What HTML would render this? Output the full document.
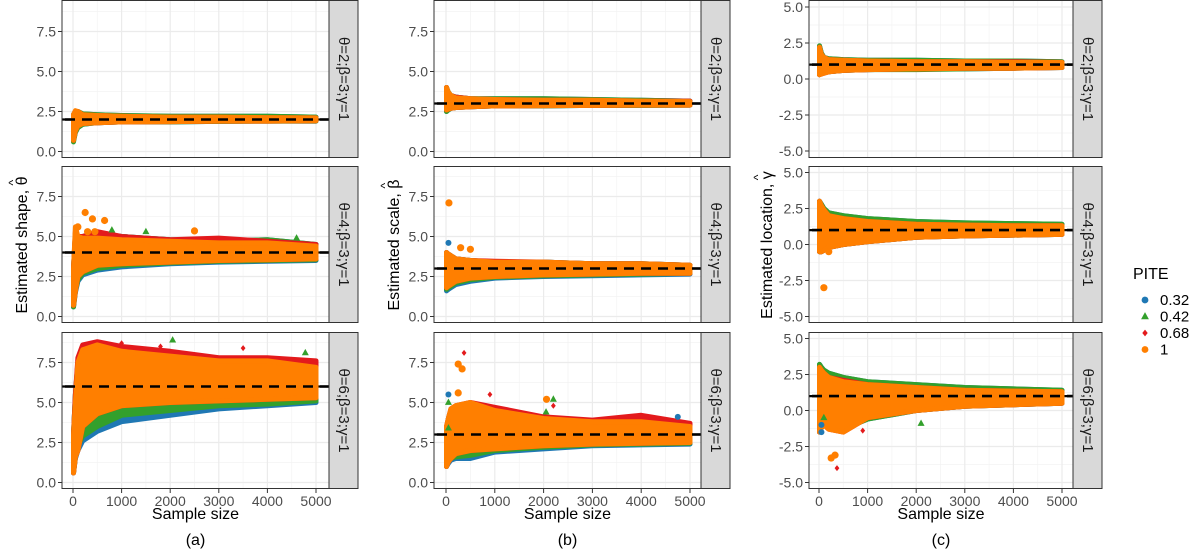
<!DOCTYPE html>
<html><head><meta charset="utf-8">
<style>
html,body{margin:0;padding:0;background:#fff;}
svg{display:block;font-family:"Liberation Sans",sans-serif;}
</style></head>
<body>
<svg id="chart" width="1200" height="553" viewBox="0 0 1200 553" xmlns="http://www.w3.org/2000/svg"></svg>
<script>
// ---- data ----
const sampleKnots = [10, 50, 100, 200, 500, 1000, 2000, 3000, 4000, 5000];
const xTicks = [0, 1000, 2000, 3000, 4000, 5000];
const yTicksAB = [0, 2.5, 5, 7.5];
const yTicksC = [-5, -2.5, 0, 2.5, 5];
const stripLabels = ["θ=2;β=3;γ=1", "θ=4;β=3;γ=1", "θ=6;β=3;γ=1"];
const trueShape = [2, 4, 6];
const trueScale = [3, 3, 3];
const trueLoc = [1, 1, 1];
const legendLabels = ["0.32", "0.42", "0.68", "1"];

// panel a (shape)
const a1_blueLo = [0.7,1.2,1.5,1.7,1.8,1.85,1.85,1.88,1.9,1.9];
const a1_greenLo = [0.6,1.2,1.5,1.7,1.8,1.85,1.85,1.88,1.9,1.9];
const a1_greenHi = [2.3,2.5,2.5,2.35,2.3,2.25,2.2,2.2,2.2,2.15];
const a1_redHi = [2.3,2.5,2.5,2.3,2.25,2.2,2.15,2.15,2.1,2.1];
const a1_orangeLo = [0.7,1.3,1.6,1.75,1.8,1.85,1.87,1.9,1.9,1.92];
const a1_orangeHi = [2.3,2.55,2.5,2.3,2.25,2.2,2.15,2.15,2.12,2.1];

const a2_blueLo = [0.6,1.5,2.2,2.6,2.9,3.1,3.3,3.4,3.45,3.5];
const a2_greenLo = [0.6,1.6,2.3,2.7,3.0,3.2,3.35,3.45,3.5,3.55];
const a2_greenHi = [3.0,5.2,5.0,5.0,5.2,5.0,4.8,4.7,4.8,4.5];
const a2_redHi = [3.0,5.3,5.0,5.0,5.3,5.0,4.8,4.9,4.7,4.5];
const a2_orangeLo = [0.7,1.6,2.5,2.8,3.2,3.3,3.4,3.5,3.55,3.6];
const a2_orangeHi = [3.0,5.6,5.0,4.9,4.9,4.8,4.7,4.6,4.6,4.4];

const a3_blueLo = [0.6,1.5,2.0,2.6,3.2,3.8,4.2,4.6,4.8,5.0];
const a3_greenLo = [0.6,1.6,2.3,2.9,3.5,4.2,4.5,4.8,4.9,5.1];
const a3_greenHi = [3.0,5.5,7.5,8.3,8.5,8.3,8.0,7.5,7.5,7.2];
const a3_redHi = [3.0,5.5,7.8,8.6,8.8,8.5,8.2,7.8,7.8,7.6];
const a3_orangeLo = [0.6,1.6,2.0,3.5,4.3,4.8,5.0,5.1,5.2,5.3];
const a3_orangeHi = [3.0,5.0,7.5,8.3,8.6,8.2,7.9,7.6,7.6,7.2];

// panel b (scale)
const b1_blueLo = [2.5,2.6,2.7,2.75,2.8,2.85,2.85,2.88,2.88,2.9];
const b1_greenLo = [2.5,2.6,2.7,2.75,2.8,2.85,2.85,2.88,2.88,2.9];
const b1_greenHi = [4.0,3.7,3.5,3.4,3.3,3.3,3.3,3.25,3.2,3.15];
const b1_redHi = [4.0,3.6,3.5,3.4,3.3,3.25,3.2,3.2,3.15,3.15];
const b1_orangeLo = [2.6,2.65,2.7,2.75,2.8,2.85,2.87,2.88,2.9,2.9];
const b1_orangeHi = [4.0,3.7,3.5,3.35,3.3,3.25,3.2,3.2,3.15,3.12];

const b2_blueLo = [1.6,1.7,1.8,2.0,2.2,2.4,2.5,2.55,2.6,2.65];
const b2_greenLo = [1.7,1.8,1.9,2.1,2.3,2.45,2.55,2.6,2.65,2.7];
const b2_greenHi = [4.0,3.9,3.8,3.6,3.5,3.4,3.4,3.3,3.3,3.2];
const b2_redHi = [4.0,3.9,3.8,3.6,3.5,3.45,3.4,3.3,3.3,3.2];
const b2_orangeLo = [1.8,1.9,2.0,2.2,2.4,2.5,2.6,2.65,2.7,2.7];
const b2_orangeHi = [4.0,3.9,3.8,3.6,3.5,3.4,3.4,3.3,3.3,3.2];

const b3_blueLo = [1.0,1.2,1.4,1.5,1.5,1.9,2.1,2.3,2.35,2.4];
const b3_greenLo = [1.0,1.3,1.5,1.6,1.7,2.0,2.2,2.35,2.4,2.45];
const b3_greenHi = [3.4,4.0,4.5,4.7,4.9,4.5,4.0,3.8,3.7,3.6];
const b3_redHi = [3.5,4.0,4.6,4.8,5.0,4.7,4.1,3.9,4.2,3.7];
const b3_orangeLo = [1.0,1.3,1.5,1.8,2.0,2.1,2.3,2.4,2.45,2.5];
const b3_orangeHi = [3.5,4.0,4.6,4.8,5.0,4.5,4.0,3.8,3.8,3.5];

// panel c (location)
const c1_blueLo = [0.3,0.4,0.45,0.5,0.6,0.65,0.7,0.7,0.75,0.8];
const c1_greenLo = [0.3,0.4,0.45,0.5,0.6,0.65,0.65,0.7,0.75,0.8];
const c1_greenHi = [2.3,1.8,1.5,1.4,1.35,1.3,1.3,1.25,1.25,1.2];
const c1_redHi = [2.2,1.7,1.5,1.35,1.3,1.25,1.2,1.2,1.2,1.15];
const c1_orangeLo = [0.3,0.35,0.4,0.5,0.6,0.65,0.7,0.75,0.75,0.8];
const c1_orangeHi = [2.2,1.7,1.5,1.35,1.3,1.25,1.2,1.2,1.15,1.15];

const c2_blueLo = [-0.5,-0.5,-0.4,-0.2,0.0,0.2,0.5,0.6,0.65,0.7];
const c2_greenLo = [-0.5,-0.5,-0.4,-0.2,0.0,0.2,0.5,0.6,0.65,0.7];
const c2_greenHi = [3.0,2.8,2.5,2.2,2.0,1.8,1.6,1.5,1.45,1.4];
const c2_redHi = [3.0,2.7,2.4,2.0,1.8,1.6,1.4,1.35,1.3,1.3];
const c2_orangeLo = [-0.5,-0.5,-0.4,-0.2,0.0,0.2,0.5,0.6,0.65,0.7];
const c2_orangeHi = [3.0,2.7,2.4,2.0,1.8,1.6,1.4,1.35,1.3,1.3];

const c3_blueLo = [-1.5,-1.2,-1.0,-1.2,-1.3,-0.6,0.0,0.3,0.4,0.5];
const c3_greenLo = [-1.5,-1.2,-1.0,-1.2,-1.3,-0.6,0.0,0.3,0.4,0.5];
const c3_greenHi = [3.2,3.0,2.8,2.6,2.3,2.0,1.8,1.6,1.5,1.4];
const c3_redHi = [3.0,2.8,2.6,2.3,2.1,1.8,1.6,1.4,1.35,1.3];
const c3_orangeLo = [-1.5,-1.2,-1.0,-1.3,-1.5,-0.5,0.0,0.3,0.4,0.5];
const c3_orangeHi = [3.0,2.8,2.6,2.3,2.0,1.8,1.6,1.4,1.35,1.3];

// outliers: [n, value]
const a2_orangeOut = [[250,6.5],[400,6.1],[650,6.0],[100,5.6],[300,5.3],[450,5.3],[2500,5.35]];
const a2_greenOut = [[800,5.4],[1500,5.3],[4600,4.9]];
const a3_greenOut = [[2050,8.9],[4780,8.1]];
const a3_redOut = [[1000,8.7],[1800,8.5],[3500,8.4]];
const b2_orangeOut = [[60,7.1],[300,4.3],[500,4.2]];
const b2_blueOut = [[50,4.6]];
const b3_orangeOut = [[250,7.4],[330,7.1],[250,5.6],[2060,5.2]];
const b3_redOut = [[370,8.1],[900,5.5],[2200,4.8]];
const b3_greenOut = [[50,5.0],[2200,5.2],[2050,4.4],[50,3.4]];
const b3_blueOut = [[50,5.5],[4750,4.1]];
const c2_orangeOut = [[100,-3.0],[200,-0.5]];
const c3_orangeOut = [[250,-3.3],[330,-3.1]];
const c3_redOut = [[370,-4.0],[900,-1.4]];
const c3_greenOut = [[100,-0.5],[2100,-0.9]];
const c3_blueOut = [[50,-1.5],[50,-1.0]];

// ---- layout ----
const NS = "http://www.w3.org/2000/svg";
const svg = document.getElementById("chart");
const COLORS = {blue:"#1f78b4", green:"#33a02c", red:"#e31a1c", orange:"#ff7f00"};
const cols = [
  {key:"a", left:62, right:329, x0:73, x5:316, title:"Estimated shape, ", sym:"θ", titleX:22, letter:"(a)", type:"ab", truth:trueShape},
  {key:"b", left:434, right:701, x0:446, x5:690, title:"Estimated scale, ", sym:"β", titleX:394, letter:"(b)", type:"ab", truth:trueScale},
  {key:"c", left:809, right:1073, x0:819, x5:1062, title:"Estimated location, ", sym:"γ", titleX:767, letter:"(c)", type:"c", truth:trueLoc}
];
const rows = [{top:0,bottom:158},{top:166,bottom:323},{top:332,bottom:489}];
const STRIP_W = 29;

function el(tag, attrs, parent){
  const e = document.createElementNS(NS, tag);
  for (const k in attrs) e.setAttribute(k, attrs[k]);
  (parent||svg).appendChild(e);
  return e;
}

const bands = {
  a1:[a1_blueLo,a1_greenLo,a1_greenHi,a1_redHi,a1_orangeLo,a1_orangeHi],
  a2:[a2_blueLo,a2_greenLo,a2_greenHi,a2_redHi,a2_orangeLo,a2_orangeHi],
  a3:[a3_blueLo,a3_greenLo,a3_greenHi,a3_redHi,a3_orangeLo,a3_orangeHi],
  b1:[b1_blueLo,b1_greenLo,b1_greenHi,b1_redHi,b1_orangeLo,b1_orangeHi],
  b2:[b2_blueLo,b2_greenLo,b2_greenHi,b2_redHi,b2_orangeLo,b2_orangeHi],
  b3:[b3_blueLo,b3_greenLo,b3_greenHi,b3_redHi,b3_orangeLo,b3_orangeHi],
  c1:[c1_blueLo,c1_greenLo,c1_greenHi,c1_redHi,c1_orangeLo,c1_orangeHi],
  c2:[c2_blueLo,c2_greenLo,c2_greenHi,c2_redHi,c2_orangeLo,c2_orangeHi],
  c3:[c3_blueLo,c3_greenLo,c3_greenHi,c3_redHi,c3_orangeLo,c3_orangeHi]
};
const outliers = {
  a2:{orange:a2_orangeOut, green:a2_greenOut},
  a3:{green:a3_greenOut, red:a3_redOut},
  b2:{orange:b2_orangeOut, blue:b2_blueOut},
  b3:{orange:b3_orangeOut, red:b3_redOut, green:b3_greenOut, blue:b3_blueOut},
  c2:{orange:c2_orangeOut},
  c3:{orange:c3_orangeOut, red:c3_redOut, green:c3_greenOut, blue:c3_blueOut}
};

function marker(color, cx, cy, r, parent){
  let m;
  if (color === "green") {
    m = el("polygon",{points:`${cx},${cy-r-1} ${cx-r-0.5},${cy+r*0.8} ${cx+r+0.5},${cy+r*0.8}`, fill:COLORS[color]}, parent);
  } else if (color === "red") {
    m = el("polygon",{points:`${cx},${cy-r} ${cx+r*0.8},${cy} ${cx},${cy+r} ${cx-r*0.8},${cy}`, fill:COLORS[color]}, parent);
  } else {
    m = el("circle",{cx:cx, cy:cy, r:r, fill:COLORS[color]}, parent);
  }
  return m;
}

cols.forEach((c) => {
  const xs = n => c.x0 + n/5000*(c.x5-c.x0);
  rows.forEach((r, ri) => {
    const pid = c.key + (ri+1);
    const g = el("g",{});
    
    
    let ys, ticks, minors;
    if (c.type === "ab") {
      const zero = r.bottom - 6.5;
      ys = v => zero - v*16;
      ticks = yTicksAB; minors = [1.25,3.75,6.25,8.75];
    } else {
      const mid = (r.top + r.bottom)/2;
      ys = v => mid - v*14.4;
      ticks = yTicksC; minors = [-3.75,-1.25,1.25,3.75];
    }
    el("rect",{x:c.left,y:r.top,width:c.right-c.left,height:r.bottom-r.top,fill:"#fff"},g);
    const clipId = "clip-"+pid;
    const cp = el("clipPath",{id:clipId},g);
    el("rect",{x:c.left,y:r.top,width:c.right-c.left,height:r.bottom-r.top},cp);
    const inner = el("g",{"clip-path":`url(#${clipId})`},g);
    minors.forEach(v=> el("line",{x1:c.left,x2:c.right,y1:ys(v),y2:ys(v),stroke:"#f3f3f3","stroke-width":0.7},inner));
    [500,1500,2500,3500,4500].forEach(v=> el("line",{x1:xs(v),x2:xs(v),y1:r.top,y2:r.bottom,stroke:"#f3f3f3","stroke-width":0.7},inner));
    ticks.forEach(v=> el("line",{x1:c.left,x2:c.right,y1:ys(v),y2:ys(v),stroke:"#ebebeb","stroke-width":1.2},inner));
    xTicks.forEach(v=> el("line",{x1:xs(v),x2:xs(v),y1:r.top,y2:r.bottom,stroke:"#ebebeb","stroke-width":1.2},inner));
    const t = c.truth[ri];
    el("line",{x1:c.left,x2:c.right,y1:ys(t),y2:ys(t),stroke:"#000","stroke-width":2.2},inner);
    const [bLo,gLo,gHi,rHi,oLo,oHi] = bands[pid];
    const band = (lo, hi, color, name) => {
      let pts = sampleKnots.map((n,i)=>`${xs(n).toFixed(1)},${ys(hi[i]).toFixed(1)}`);
      pts = pts.concat(sampleKnots.map((n,i)=>`${xs(n).toFixed(1)},${ys(lo[i]).toFixed(1)}`).reverse());
      const p = el("polygon",{points:pts.join(" "),fill:COLORS[color],stroke:COLORS[color],"stroke-width":5,"stroke-linejoin":"round"},inner);
      
      
    };
    band(bLo, gHi, "blue", "series-0.32-"+pid);
    band(gLo, gHi, "green", "series-0.42-"+pid);
    band(oLo, rHi, "red", "series-0.68-"+pid);
    band(oLo, oHi, "orange", "series-1-"+pid);
    const outs = outliers[pid] || {};
    ["blue","green","red","orange"].forEach(color=>{
      (outs[color]||[]).forEach(([n,v])=>{
        const m = marker(color, xs(n), ys(v), color==="orange"?3.6:3, inner);
        
        
      });
    });
    const dl = el("line",{x1:c.left,x2:c.right,y1:ys(t),y2:ys(t),stroke:"#000","stroke-width":2.6,"stroke-dasharray":"10 7","stroke-dashoffset":"-3"},inner);
    
    
    el("rect",{x:c.left,y:r.top+0.5,width:c.right-c.left,height:r.bottom-r.top-1,fill:"none",stroke:"#333","stroke-width":1},g);
    ticks.forEach(v=>{
      el("line",{x1:c.left-4,x2:c.left,y1:ys(v),y2:ys(v),stroke:"#333","stroke-width":1},g);
      const tx = el("text",{x:c.left-6,y:ys(v)+5,"text-anchor":"end","font-size":14,fill:"#4d4d4d"},g);
      tx.textContent = v.toFixed(1);
      
      
    });
    const sg = el("g",{},g);
    
    
    el("rect",{x:c.right,y:r.top+0.5,width:STRIP_W,height:r.bottom-r.top-1,fill:"#d9d9d9",stroke:"#333","stroke-width":1},sg);
    const cx = c.right + STRIP_W/2, cy = (r.top+r.bottom)/2;
    const st = el("text",{x:cx,y:cy,transform:`rotate(90 ${cx} ${cy})`,"text-anchor":"middle","dominant-baseline":"central","font-size":15,fill:"#1a1a1a"},sg);
    st.textContent = stripLabels[ri];
    if (ri === 2) {
      xTicks.forEach(v=>{
        el("line",{x1:xs(v),x2:xs(v),y1:r.bottom,y2:r.bottom+4,stroke:"#333","stroke-width":1},g);
        const tx = el("text",{x:xs(v),y:r.bottom+17,"text-anchor":"middle","font-size":14,fill:"#4d4d4d"},g);
        tx.textContent = String(v);
        
        
      });
    }
  });
  const mx = (c.left + c.right)/2;
  const xt = el("text",{x:mx,y:519,"text-anchor":"middle","font-size":16,fill:"#000"});
  xt.textContent = "Sample size";
  
  
  const lt = el("text",{x:mx,y:545,"text-anchor":"middle","font-size":16,fill:"#000"});
  lt.textContent = c.letter;
  
  
  const yt = el("text",{x:c.titleX,y:245,transform:`rotate(-90 ${c.titleX} 245)`,"text-anchor":"middle","dominant-baseline":"central","font-size":16,fill:"#000"});
  const s1 = el("tspan",{},yt); s1.textContent = c.title;
  const s2 = el("tspan",{},yt); s2.textContent = c.sym;
  const s3 = el("tspan",{dx:-9,dy:-9,"font-size":12},yt); s3.textContent = "^";
  
  
});

const lg = el("g",{});


const ltitle = el("text",{x:1133,y:279,"font-size":16,fill:"#000"},lg);
ltitle.textContent = "PITE";


["blue","green","red","orange"].forEach((color,i)=>{
  const y = 300 + i*16.5;
  const m = marker(color, 1145, y, 3.4, lg);
  
  
  const t = el("text",{x:1160,y:y+5,"font-size":15,fill:"#000"},lg);
  t.textContent = legendLabels[i];
  
  
});
</script>
</body></html>
